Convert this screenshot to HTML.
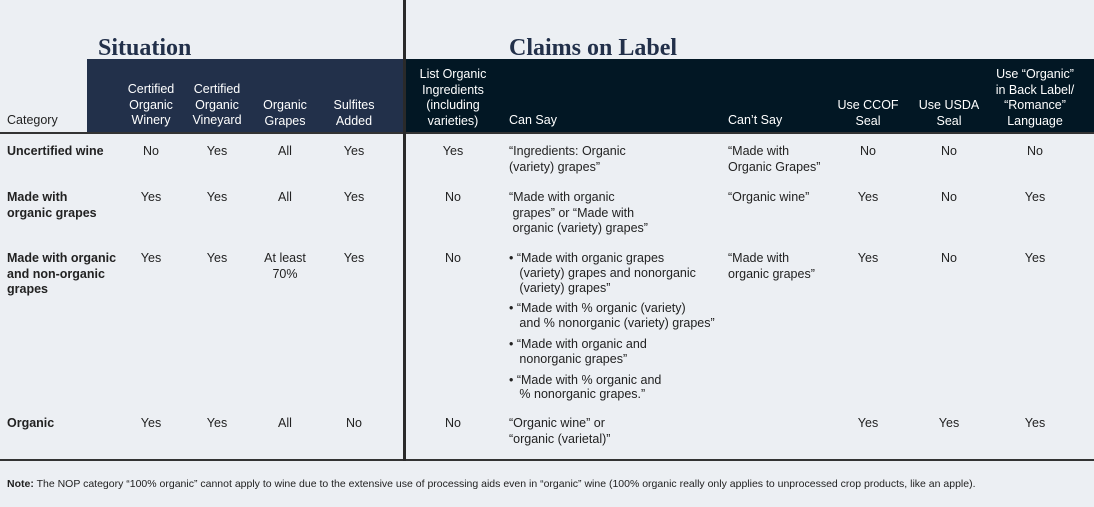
<!DOCTYPE html>
<html><head><meta charset="utf-8"><style>
*{margin:0;padding:0;box-sizing:border-box}
body{width:1094px;height:507px;background:#eceff3;font-family:"Liberation Sans",sans-serif;color:#222;position:relative;overflow:hidden;font-size:12.5px;line-height:15.5px}
.a{position:absolute}
.c{text-align:center}
.h{color:#fff}
.t{font-family:"Liberation Serif",serif;font-weight:bold;font-size:24px;color:#22304a;line-height:26px}
b{font-weight:bold}
</style></head><body>
<div class="a" style="left:87px;top:59px;width:318px;height:74px;background:#22304a"></div>
<div class="a" style="left:405px;top:59px;width:689px;height:74px;background:#021724"></div>
<div class="a" style="left:0;top:132px;width:1094px;height:2px;background:#333"></div>
<div class="a" style="left:0;top:459px;width:1094px;height:2px;background:#333"></div>
<div class="a" style="left:403px;top:0;width:3px;height:461px;background:#2a2a2a"></div>
<div class="a t" style="left:98px;top:35px">Situation</div>
<div class="a t" style="left:509px;top:35px">Claims on Label</div>

<div class="a" style="left:7px;top:113px">Category</div>
<div class="a c h" style="left:111px;width:80px;top:82px">Certified<br>Organic<br>Winery</div>
<div class="a c h" style="left:177px;width:80px;top:82px">Certified<br>Organic<br>Vineyard</div>
<div class="a c h" style="left:245px;width:80px;top:98px">Organic<br>Grapes</div>
<div class="a c h" style="left:314px;width:80px;top:98px">Sulfites<br>Added</div>
<div class="a c h" style="left:408px;width:90px;top:67px">List Organic<br>Ingredients<br>(including<br>varieties)</div>
<div class="a h" style="left:509px;top:113px">Can Say</div>
<div class="a h" style="left:728px;top:113px">Can’t Say</div>
<div class="a c h" style="left:828px;width:80px;top:98px">Use CCOF<br>Seal</div>
<div class="a c h" style="left:909px;width:80px;top:98px">Use USDA<br>Seal</div>
<div class="a c h" style="left:985px;width:100px;top:67px">Use “Organic”<br>in Back Label/<br>“Romance”<br>Language</div>

<!-- row 1 -->
<div class="a" style="left:7px;top:144px"><b>Uncertified wine</b></div>
<div class="a c" style="left:111px;width:80px;top:144px">No</div>
<div class="a c" style="left:177px;width:80px;top:144px">Yes</div>
<div class="a c" style="left:245px;width:80px;top:144px">All</div>
<div class="a c" style="left:314px;width:80px;top:144px">Yes</div>
<div class="a c" style="left:408px;width:90px;top:144px">Yes</div>
<div class="a" style="left:509px;top:144px">“Ingredients: Organic<br>(variety) grapes”</div>
<div class="a" style="left:728px;top:144px">“Made with<br>Organic Grapes”</div>
<div class="a c" style="left:828px;width:80px;top:144px">No</div>
<div class="a c" style="left:909px;width:80px;top:144px">No</div>
<div class="a c" style="left:985px;width:100px;top:144px">No</div>

<!-- row 2 -->
<div class="a" style="left:7px;top:190px"><b>Made with<br>organic grapes</b></div>
<div class="a c" style="left:111px;width:80px;top:190px">Yes</div>
<div class="a c" style="left:177px;width:80px;top:190px">Yes</div>
<div class="a c" style="left:245px;width:80px;top:190px">All</div>
<div class="a c" style="left:314px;width:80px;top:190px">Yes</div>
<div class="a c" style="left:408px;width:90px;top:190px">No</div>
<div class="a" style="left:509px;top:190px">“Made with organic<br>&nbsp;grapes” or “Made with<br>&nbsp;organic (variety) grapes”</div>
<div class="a" style="left:728px;top:190px">“Organic wine”</div>
<div class="a c" style="left:828px;width:80px;top:190px">Yes</div>
<div class="a c" style="left:909px;width:80px;top:190px">No</div>
<div class="a c" style="left:985px;width:100px;top:190px">Yes</div>

<!-- row 3 -->
<div class="a" style="left:7px;top:251px"><b>Made with organic<br>and non-organic<br>grapes</b></div>
<div class="a c" style="left:111px;width:80px;top:251px">Yes</div>
<div class="a c" style="left:177px;width:80px;top:251px">Yes</div>
<div class="a c" style="left:245px;width:80px;top:251px">At least<br>70%</div>
<div class="a c" style="left:314px;width:80px;top:251px">Yes</div>
<div class="a c" style="left:408px;width:90px;top:251px">No</div>
<div class="a" style="left:509px;top:251px;line-height:14.8px">• “Made with organic grapes<br>&nbsp;&nbsp;&nbsp;(variety) grapes and nonorganic<br>&nbsp;&nbsp;&nbsp;(variety) grapes”<br><span style="display:block;height:6px"></span>• “Made with % organic (variety)<br>&nbsp;&nbsp;&nbsp;and % nonorganic (variety) grapes”<br><span style="display:block;height:6px"></span>• “Made with organic and<br>&nbsp;&nbsp;&nbsp;nonorganic grapes”<br><span style="display:block;height:6px"></span>• “Made with % organic and<br>&nbsp;&nbsp;&nbsp;% nonorganic grapes.”</div>
<div class="a" style="left:728px;top:251px">“Made with<br>organic grapes”</div>
<div class="a c" style="left:828px;width:80px;top:251px">Yes</div>
<div class="a c" style="left:909px;width:80px;top:251px">No</div>
<div class="a c" style="left:985px;width:100px;top:251px">Yes</div>

<!-- row 4 -->
<div class="a" style="left:7px;top:416px"><b>Organic</b></div>
<div class="a c" style="left:111px;width:80px;top:416px">Yes</div>
<div class="a c" style="left:177px;width:80px;top:416px">Yes</div>
<div class="a c" style="left:245px;width:80px;top:416px">All</div>
<div class="a c" style="left:314px;width:80px;top:416px">No</div>
<div class="a c" style="left:408px;width:90px;top:416px">No</div>
<div class="a" style="left:509px;top:416px">“Organic wine” or<br>“organic (varietal)”</div>
<div class="a c" style="left:828px;width:80px;top:416px">Yes</div>
<div class="a c" style="left:909px;width:80px;top:416px">Yes</div>
<div class="a c" style="left:985px;width:100px;top:416px">Yes</div>

<div class="a" style="left:7px;top:477px;font-size:10.5px;white-space:nowrap"><b>Note:</b> The NOP category “100% organic” cannot apply to wine due to the extensive use of processing aids even in “organic” wine (100% organic really only applies to unprocessed crop products, like an apple).</div>
</body></html>
